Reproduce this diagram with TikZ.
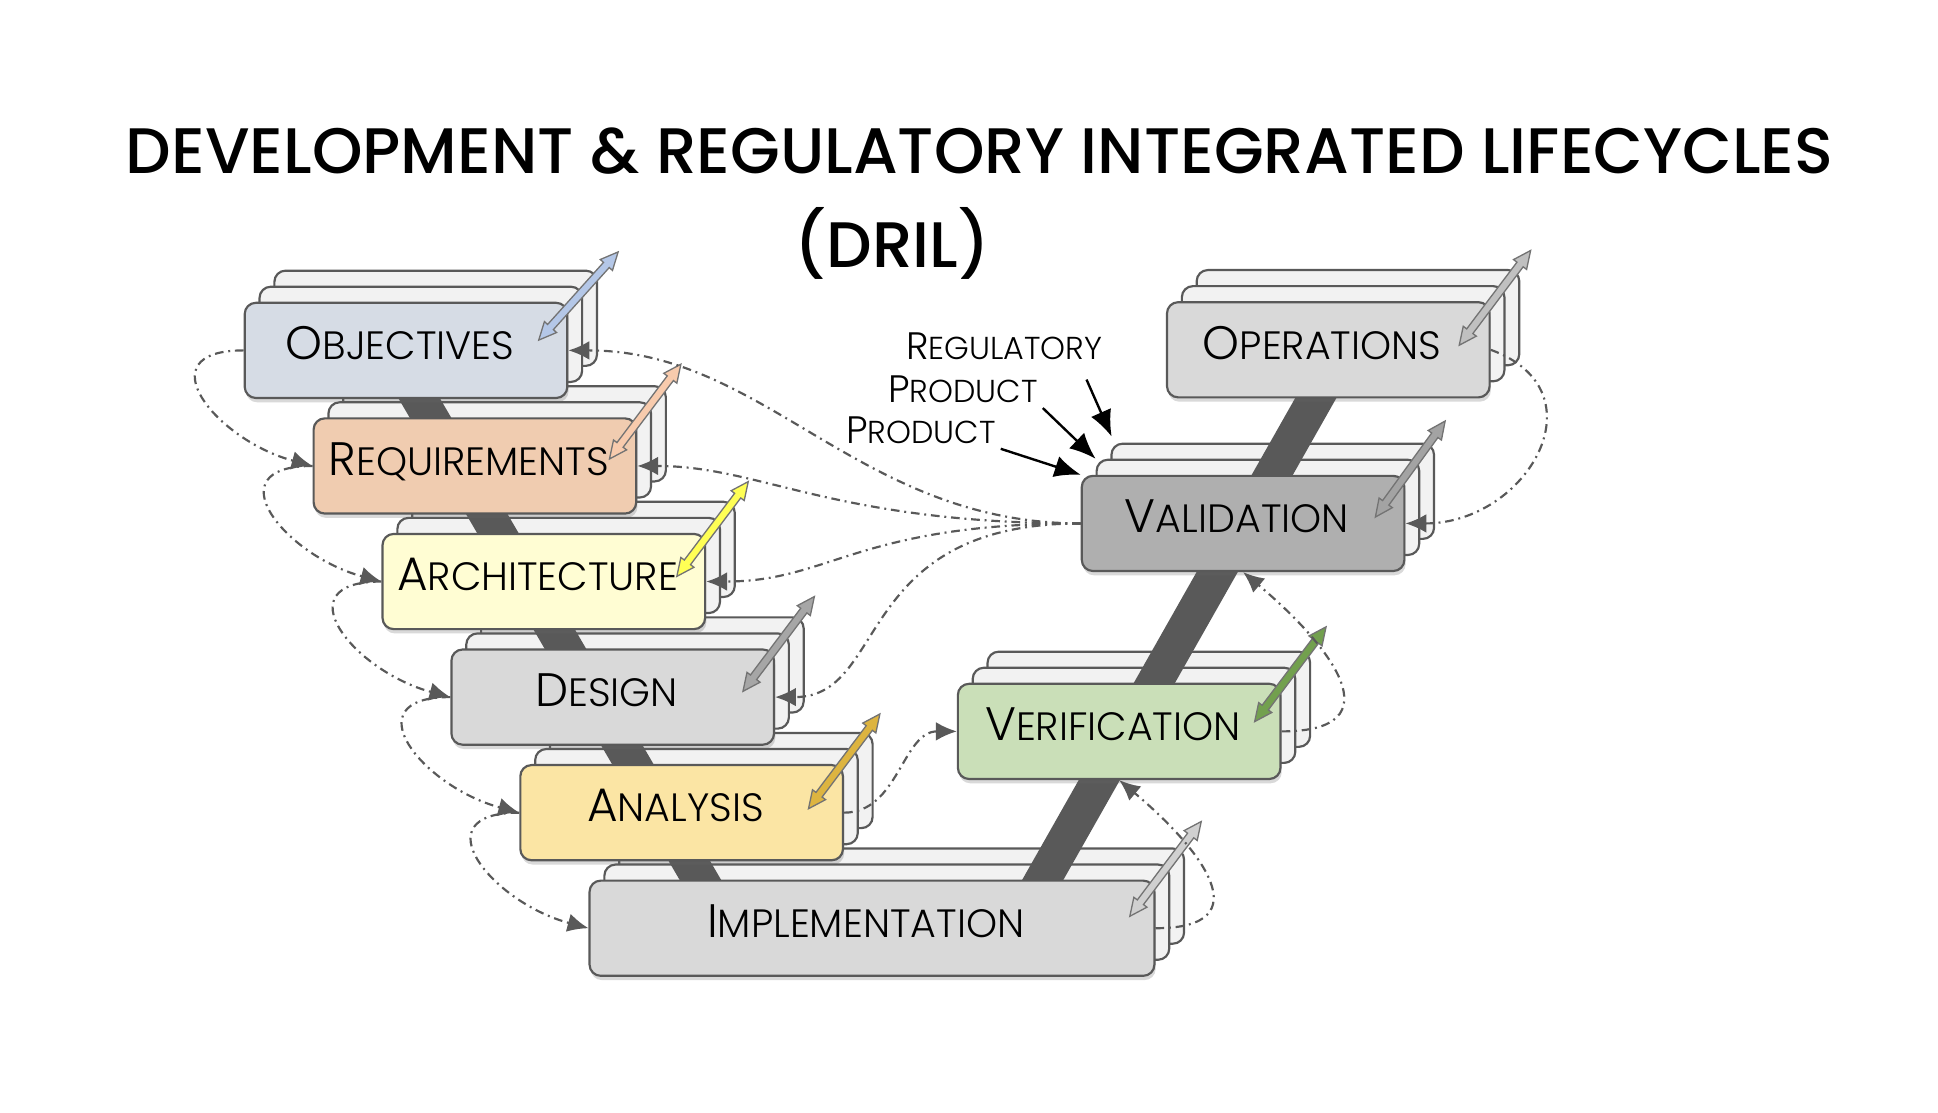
\documentclass[tikz,border=0pt]{standalone}
\usepackage{fontspec}
\setmainfont{Poppins}
\newfontfamily\lightfont{Poppins Light}
\newfontfamily\titlefont{Poppins Medium}
\usetikzlibrary{arrows.meta,shapes.arrows,shadows,backgrounds}

\definecolor{dgray}{HTML}{595959}
\definecolor{backc}{HTML}{F2F2F2}
\definecolor{obc}{HTML}{D6DCE5}
\definecolor{rqc}{HTML}{F0CCB0}
\definecolor{arc}{HTML}{FFFDD3}
\definecolor{dec}{HTML}{D9D9D9}
\definecolor{anc}{HTML}{FBE5A4}
\definecolor{imc}{HTML}{D9D9D9}
\definecolor{vec}{HTML}{CADFB8}
\definecolor{vac}{HTML}{AFAFAF}
\definecolor{opc}{HTML}{D9D9D9}
\definecolor{oba}{HTML}{B4C7E7}
\definecolor{rqa}{HTML}{F8CBAD}
\definecolor{ara}{HTML}{FFFF55}
\definecolor{dea}{HTML}{A6A6A6}
\definecolor{ana}{HTML}{DDB440}
\definecolor{ima}{HTML}{D0D0D0}
\definecolor{vea}{HTML}{72A04E}
\definecolor{vaa}{HTML}{A3A3A3}
\definecolor{opa}{HTML}{C0C0C0}

\newcommand{\bsc}[2]{{\fontsize{10.8}{13}\selectfont #1}{\fontsize{9.1}{13}\selectfont #2}\hspace*{0.1cm}}
\newcommand{\ssc}[2]{{\fontsize{8.8}{10}\selectfont #1}{\fontsize{7.3}{10}\selectfont #2}}

\begin{document}
\begin{tikzpicture}[>=Latex,
  stage/.style={draw=dgray,line width=0.5pt,rounded corners=0.09cm,minimum width=2.61cm,minimum height=0.77cm,inner sep=0pt,text height=7.7pt,text depth=3.4pt,font=\lightfont,
    drop shadow={shadow xshift=0.01cm,shadow yshift=-0.035cm,opacity=0.25,fill=black!60}},
  sheet/.style={draw=dgray,line width=0.5pt,fill=backc,rounded corners=0.09cm,minimum width=2.61cm,minimum height=0.77cm,inner sep=0pt},
  dbl/.style={double arrow,draw=black!55,line width=0.3pt,minimum height=0.96cm,minimum width=0pt,inner xsep=0pt,inner ysep=0.026cm,double arrow head extend=0.035cm,double arrow tip angle=50},
  flow/.style={draw=dgray,line width=0.5pt,dash pattern=on 2pt off 1.1pt on 0.45pt off 1.1pt,-{Latex[length=4.8pt,width=4.3pt]}},
  ptr/.style={draw=black,line width=0.55pt,-{Latex[length=6pt,width=5pt]}},
  lbl/.style={font=\lightfont,inner sep=1pt,text height=6.2pt,text depth=0pt},
  spine/.style={draw=dgray,line width=0.29cm}]
\useasboundingbox (0,0) rectangle (15.68,9.0);
% title
\node[font=\titlefont\fontsize{14.8}{16}\selectfont] (tt) at (7.925,7.775) {DEVELOPMENT \& REGULATORY INTEGRATED LIFECYCLES};
\node[font=\titlefont\fontsize{14.8}{16}\selectfont] (tt2) at (7.22,7.03) {(DRIL)};
% stages, lowest first
\node[stage,fill=imc,minimum width=4.57cm] (im) at (7.055,1.49) {\bsc{I}{MPLEMENTATION}};
\node[stage,fill=anc] (an) at (5.515,2.425) {\bsc{A}{NALYSIS}};
\node[stage,fill=dec] (de) at (4.9575,3.36) {\bsc{D}{ESIGN}};
\node[stage,fill=arc] (ar) at (4.40,4.295) {\bsc{A}{RCHITECTURE}};
\node[stage,fill=rqc] (rq) at (3.8425,5.23) {\bsc{R}{EQUIREMENTS}};
\node[stage,fill=obc] (ob) at (3.285,6.165) {\bsc{O}{BJECTIVES}};
\node[stage,fill=vec] (ve) at (9.055,3.0825) {\bsc{V}{ERIFICATION}};
\node[stage,fill=vac] (va) at (10.0575,4.765) {\bsc{V}{ALIDATION}};
\node[stage,fill=opc] (op) at (10.747,6.17) {\bsc{O}{PERATIONS}};
% stacked sheets and the V behind the stages
\begin{scope}[on background layer]
\node[sheet,minimum width=4.57cm] (imb) at ([shift={(0.24,0.26)}]im.center) {};
\node[sheet,minimum width=4.57cm] (imm) at ([shift={(0.12,0.13)}]im.center) {};
\node[sheet] (anb) at ([shift={(0.24,0.26)}]an.center) {};
\node[sheet] (anm) at ([shift={(0.12,0.13)}]an.center) {};
\node[sheet] (deb) at ([shift={(0.24,0.26)}]de.center) {};
\node[sheet] (dem) at ([shift={(0.12,0.13)}]de.center) {};
\node[sheet] (arb) at ([shift={(0.24,0.26)}]ar.center) {};
\node[sheet] (arm) at ([shift={(0.12,0.13)}]ar.center) {};
\node[sheet] (rqb) at ([shift={(0.24,0.26)}]rq.center) {};
\node[sheet] (rqm) at ([shift={(0.12,0.13)}]rq.center) {};
\node[sheet] (obb) at ([shift={(0.24,0.26)}]ob.center) {};
\node[sheet] (obm) at ([shift={(0.12,0.13)}]ob.center) {};
\node[sheet] (veb) at ([shift={(0.24,0.26)}]ve.center) {};
\node[sheet] (vem) at ([shift={(0.12,0.13)}]ve.center) {};
\node[sheet] (vab) at ([shift={(0.24,0.26)}]va.center) {};
\node[sheet] (vam) at ([shift={(0.12,0.13)}]va.center) {};
\node[sheet] (opb) at ([shift={(0.24,0.26)}]op.center) {};
\node[sheet] (opm) at ([shift={(0.12,0.13)}]op.center) {};
\draw[spine] ([xshift=-0.12cm]ob.center) -- ([xshift=-1.16cm]im.center);
\draw[spine] ([xshift=1.16cm]im.center) -- ([xshift=0.12cm]op.center);
\end{scope}
% two-way arrows
\node[dbl,fill=oba,rotate=48] (obx) at (4.68,6.605) {};
\node[dbl,fill=rqa,rotate=53] (rqx) at (5.22,5.67) {};
\node[dbl,fill=ara,rotate=53] (arx) at (5.765,4.72) {};
\node[dbl,fill=dea,rotate=53] (dex) at (6.30,3.79) {};
\node[dbl,fill=ana,rotate=53] (anx) at (6.83,2.84) {};
\node[dbl,fill=ima,rotate=53] (imx) at (9.43,1.97) {};
\node[dbl,fill=vea,rotate=53] (vex) at (10.44,3.545) {};
\node[dbl,fill=vaa,rotate=54] (vax) at (11.41,5.205) {};
\node[dbl,fill=opa,rotate=53] (opx) at (12.095,6.59) {};
% flows down the left side
\draw[flow] (ob.west) to[out=180,in=165,looseness=1.9] (rq.west);
\draw[flow] (rq.west) to[out=180,in=165,looseness=1.9] (ar.west);
\draw[flow] (ar.west) to[out=180,in=165,looseness=1.9] (de.west);
\draw[flow] (de.west) to[out=180,in=165,looseness=1.9] (an.west);
\draw[flow] (an.west) to[out=180,in=165,looseness=1.9] (im.west);
% feedback from validation
\draw[flow] (va.west) to[out=180,in=0,out distance=1.8cm,in distance=1.6cm] (ob.east);
\draw[flow] (va.west) to[out=180,in=0,out distance=2.0cm,in distance=1.0cm] (rq.east);
\draw[flow] (va.west) to[out=180,in=0,out distance=1.8cm,in distance=1.0cm] (ar.east);
\draw[flow] (va.west) to[out=180,in=0,out distance=1.85cm,in distance=0.92cm] (de.east);
% right side
\draw[flow] (an.east) to[out=0,in=180] (ve.west);
\draw[flow] (im.east) to[out=0,in=-40,looseness=1.8] (ve.south);
\draw[flow] (ve.east) to[out=0,in=-40,looseness=1.8] (va.south);
\draw[flow] (op.east) to[out=-20,in=0,looseness=1.6] (va.east);
% layer labels
\node[lbl] (rg) at (8.125,6.20) {\ssc{R}{EGULATORY}};
\node[lbl] (pr2) at (7.79,5.85) {\ssc{P}{RODUCT}};
\node[lbl] (pr1) at (7.45,5.52) {\ssc{P}{RODUCT}};
\draw[ptr] ([xshift=-0.17cm,yshift=-0.12cm]rg.south east) -- ([shift={(0.01,0.05)}]vab.north west);
\draw[ptr] (pr2.south east) -- (vam.north west);
\draw[ptr] (pr1.south east) -- (va.north west);
\end{tikzpicture}
\end{document}
